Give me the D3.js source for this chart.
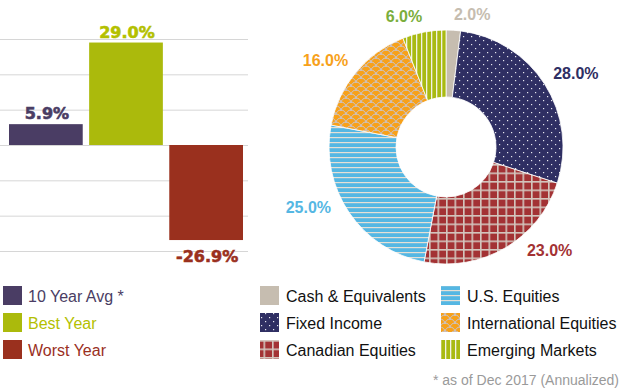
<!DOCTYPE html>
<html><head><meta charset="utf-8">
<script src="https://cdn.jsdelivr.net/npm/d3@7"></script>
<style>
html,body{margin:0;padding:0;background:#fff;}
svg{display:block;}
</style></head>
<body>
<svg id="chart" width="620" height="390"></svg>
<script>
// ---------- DATA ----------
const barCategories = ["10 Year Avg *", "Best Year", "Worst Year"];
const barValues = [5.9, 29.0, -26.9];
const barTicks = [-30, -20, -10, 0, 10, 20, 30];

const pieCategories = ["Cash & Equivalents", "Fixed Income", "Canadian Equities", "U.S. Equities", "International Equities", "Emerging Markets"];
const pieValues = [2.0, 28.0, 23.0, 25.0, 16.0, 6.0];
const legendOrder = ["Cash & Equivalents", "U.S. Equities", "Fixed Income", "International Equities", "Canadian Equities", "Emerging Markets"];
const footnote = "* as of Dec 2017 (Annualized)";

// ---------- STYLE ----------
const SANS = "'Liberation Sans', Arial, Helvetica, sans-serif";
const barColors = ["#4a3d64", "#abba0c", "#9a301e"];
const barTextColors = ["#4a3d64", "#b3c000", "#9a301e"];
const pieFill = {
  "Cash & Equivalents": "#c6bdb0",
  "Fixed Income": "url(#pDots)",
  "Canadian Equities": "url(#pGrid)",
  "U.S. Equities": "url(#pHLines)",
  "International Equities": "url(#pScale)",
  "Emerging Markets": "url(#pVLines)"
};
const pieLabelColor = {
  "Cash & Equivalents": "#c6bdb0",
  "Fixed Income": "#2f2f63",
  "Canadian Equities": "#a33234",
  "U.S. Equities": "#55b7e3",
  "International Equities": "#f7a11a",
  "Emerging Markets": "#7aae3c"
};
const labelAngleTweak = {"Canadian Equities": -9, "U.S. Equities": 9};

const svg = d3.select("#chart");
const defs = svg.append("defs");

// patterns
function pat(id, w, h, bg) {
  const p = defs.append("pattern").attr("id", id).attr("patternUnits", "userSpaceOnUse")
    .attr("width", w).attr("height", h);
  p.append("rect").attr("width", w).attr("height", h).attr("fill", bg);
  return p;
}
let p = pat("pDots", 8, 8, "#2f2f63");
p.append("rect").attr("x", 1).attr("y", 1).attr("width", 1.2).attr("height", 1.2).attr("fill", "#e8e8f0");
p.append("rect").attr("x", 5).attr("y", 5).attr("width", 1.2).attr("height", 1.2).attr("fill", "#e8e8f0");

p = pat("pGrid", 8.5, 8.5, "#a33234");
p.append("rect").attr("x", 0).attr("y", 0).attr("width", 8.5).attr("height", 1.6).attr("fill", "#d3c5bd");
p.append("rect").attr("x", 0).attr("y", 0).attr("width", 1.6).attr("height", 8.5).attr("fill", "#d3c5bd");

p = pat("pHLines", 6, 5, "#55b7e3");
p.append("rect").attr("x", 0).attr("y", 0).attr("width", 6).attr("height", 1.2).attr("fill", "#e6e0d6");

p = pat("pVLines", 5, 6, "#a9ba12");
p.append("rect").attr("x", 0).attr("y", 0).attr("width", 1.3).attr("height", 6).attr("fill", "#f2f2e6");

p = pat("pScale", 10, 8, "#f7a11a");
p.append("path").attr("d", "M0,8 A5,5 0 0,1 10,8 M-5,4 A5,5 0 0,1 5,4 M5,4 A5,5 0 0,1 15,4 M-5,12 A5,5 0 0,1 5,12 M5,12 A5,5 0 0,1 15,12 M0,0 A5,5 0 0,1 10,0")
  .attr("fill", "none").attr("stroke", "#c9c4cc").attr("stroke-width", 1);

// ---------- BAR CHART ----------
const x = d3.scaleBand().domain(barCategories).range([5, 247]).paddingInner(0.08).paddingOuter(0.05);
const y = d3.scaleLinear().domain([-30, 30]).range([251, 39]);

const grid = d3.axisLeft(y).tickValues(barTicks).tickSize(-248).tickFormat("");
svg.append("g").call(grid)
  .call(g => g.select(".domain").remove())
  .call(g => g.selectAll("line").attr("stroke", "#d6d6d6").attr("stroke-width", 1));

svg.append("g").selectAll("rect").data(barValues).join("rect")
  .attr("x", (d, i) => x(barCategories[i]))
  .attr("width", x.bandwidth())
  .attr("y", d => y(Math.max(0, d)))
  .attr("height", d => Math.abs(y(d) - y(0)))
  .attr("fill", (d, i) => barColors[i]);

svg.append("g").selectAll("text").data(barValues).join("text")
  .attr("x", (d, i) => x(barCategories[i]) + x.bandwidth() / 2 + 1)
  .attr("y", d => d >= 0 ? y(d) - 5 : y(d) + 22)
  .attr("text-anchor", "middle")
  .attr("font-family", "'DejaVu Sans', sans-serif")
  .attr("font-weight", "bold")
  .attr("font-size", 16)
  .attr("fill", (d, i) => barTextColors[i])
  .attr("stroke", (d, i) => barTextColors[i])
  .attr("stroke-width", 0.6)
  .text(d => d.toFixed(1) + "%");

// ---------- DONUT ----------
const cx = 446, cy = 147, rOuter = 117, rInner = 50, rLabel = 127;
const pie = d3.pie().sort(null).value(d => d)(pieValues);
const arc = d3.arc().innerRadius(rInner).outerRadius(rOuter);
const pg = svg.append("g").attr("transform", `translate(${cx},${cy})`);
pg.selectAll("path").data(pie).join("path")
  .attr("d", arc)
  .attr("fill", (d, i) => pieFill[pieCategories[i]])
  .attr("stroke", "#ffffff").attr("stroke-width", 0.8);

pg.selectAll("text").data(pie).join("text")
  .each(function (d, i) {
    const cat = pieCategories[i];
    const a = (d.startAngle + d.endAngle) / 2 + (labelAngleTweak[cat] || 0) * Math.PI / 180;
    const px = rLabel * Math.sin(a), py = -rLabel * Math.cos(a);
    d3.select(this)
      .attr("x", px)
      .attr("y", py < 0 ? py : py + 11.5)
      .attr("text-anchor", px >= 0 ? "start" : "end");
  })
  .attr("font-family", SANS)
  .attr("font-weight", "bold")
  .attr("font-size", 16)
  .attr("fill", (d, i) => pieLabelColor[pieCategories[i]])
  .text(d => d.value.toFixed(1) + "%");

// ---------- LEGENDS ----------
const lg = svg.append("g").attr("font-family", SANS).attr("font-size", 16);
barCategories.forEach((c, i) => {
  const ty = 286 + i * 27;
  lg.append("rect").attr("x", 3).attr("y", ty).attr("width", 19).attr("height", 19).attr("fill", barColors[i]);
  lg.append("text").attr("x", 28).attr("y", ty + 16).attr("fill", barTextColors[i]).text(c);
});
legendOrder.forEach((c, i) => {
  const col = i % 2, row = Math.floor(i / 2);
  const sx = col === 0 ? 260 : 441;
  const ty = 286 + row * 27;
  lg.append("rect").attr("x", sx).attr("y", ty).attr("width", 19).attr("height", 19).attr("fill", pieFill[c]);
  lg.append("text").attr("x", sx + 26).attr("y", ty + 16).attr("fill", "#111111").text(c);
});

svg.append("text").attr("x", 619).attr("y", 385).attr("text-anchor", "end")
  .attr("font-family", SANS).attr("font-size", 14)
  .attr("fill", "#9a9a9a").text(footnote);
</script>
</body></html>
